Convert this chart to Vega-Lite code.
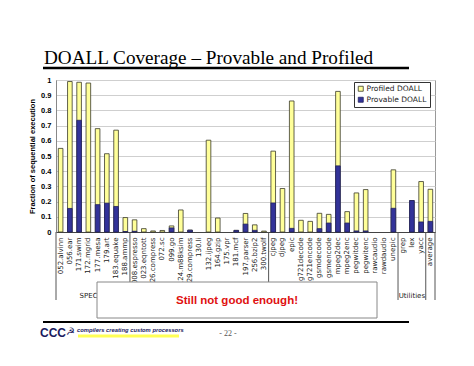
{
  "$schema": "https://vega.github.io/schema/vega-lite/v6.json",
  "width": 379,
  "height": 152,
  "autosize": {"type": "none"},
  "padding": {"left": 56, "top": 80, "right": 39, "bottom": 134},
  "background": "white",
  "title": {"text": "DOALL Coverage – Provable and Profiled", "anchor": "start", "frame": "group", "dx": -12, "dy": 29, "offset": 13, "baseline": "alphabetic", "font": "Liberation Serif", "fontSize": 19.2, "fontWeight": "normal", "color": "#000"},
  "config": {
    "view": {"stroke": "#999"},
    "font": "DejaVu Sans",
    "legend": {"orient": "none", "legendX": 298, "legendY": 2, "symbolType": "square", "symbolSize": 25, "symbolStrokeWidth": 0.8, "labelFontSize": 7.5, "labelFont": "DejaVu Sans", "labelColor": "#222", "padding": 3, "strokeColor": "#333", "fillColor": "white", "rowPadding": 2, "labelOffset": 2}
  },
  "layer": [
    {
      "data": {"values": [
        {"b": "052.alvinn", "s": "Profiled DOALL", "v": 0.55},
        {"b": "056.ear", "s": "Profiled DOALL", "v": 0.99},
        {"b": "171.swim", "s": "Profiled DOALL", "v": 0.985},
        {"b": "172.mgrid", "s": "Profiled DOALL", "v": 0.98},
        {"b": "177.mesa", "s": "Profiled DOALL", "v": 0.68},
        {"b": "179.art", "s": "Profiled DOALL", "v": 0.515},
        {"b": "183.equake", "s": "Profiled DOALL", "v": 0.67},
        {"b": "188.ammp", "s": "Profiled DOALL", "v": 0.095},
        {"b": "008.espresso", "s": "Profiled DOALL", "v": 0.08},
        {"b": "023.eqntott", "s": "Profiled DOALL", "v": 0.022},
        {"b": "026.compress", "s": "Profiled DOALL", "v": 0.007},
        {"b": "072.sc", "s": "Profiled DOALL", "v": 0.01},
        {"b": "099.go", "s": "Profiled DOALL", "v": 0.04},
        {"b": "124.m88ksim", "s": "Profiled DOALL", "v": 0.145},
        {"b": "129.compress", "s": "Profiled DOALL", "v": 0.013},
        {"b": "130.li", "s": "Profiled DOALL", "v": 0},
        {"b": "132.ijpeg", "s": "Profiled DOALL", "v": 0.604},
        {"b": "164.gzip", "s": "Profiled DOALL", "v": 0.092},
        {"b": "175.vpr", "s": "Profiled DOALL", "v": 0},
        {"b": "181.mcf", "s": "Profiled DOALL", "v": 0.011},
        {"b": "197.parser", "s": "Profiled DOALL", "v": 0.122},
        {"b": "256.bzip2", "s": "Profiled DOALL", "v": 0.047},
        {"b": "300.twolf", "s": "Profiled DOALL", "v": 0.006},
        {"b": "cjpeg", "s": "Profiled DOALL", "v": 0.532},
        {"b": "djpeg", "s": "Profiled DOALL", "v": 0.286},
        {"b": "epic", "s": "Profiled DOALL", "v": 0.862},
        {"b": "g721decode", "s": "Profiled DOALL", "v": 0.077},
        {"b": "g721encode", "s": "Profiled DOALL", "v": 0.07},
        {"b": "gsmdecode", "s": "Profiled DOALL", "v": 0.123},
        {"b": "gsmencode", "s": "Profiled DOALL", "v": 0.116},
        {"b": "mpeg2dec", "s": "Profiled DOALL", "v": 0.925},
        {"b": "mpeg2enc", "s": "Profiled DOALL", "v": 0.134},
        {"b": "pegwitdec", "s": "Profiled DOALL", "v": 0.257},
        {"b": "pegwitenc", "s": "Profiled DOALL", "v": 0.279},
        {"b": "rawcaudio", "s": "Profiled DOALL", "v": 0},
        {"b": "rawdaudio", "s": "Profiled DOALL", "v": 0},
        {"b": "unepic", "s": "Profiled DOALL", "v": 0.409},
        {"b": "grep", "s": "Profiled DOALL", "v": 0},
        {"b": "lex", "s": "Profiled DOALL", "v": 0.207},
        {"b": "yacc", "s": "Profiled DOALL", "v": 0.332},
        {"b": "average", "s": "Profiled DOALL", "v": 0.281},
        {"b": "056.ear", "s": "Provable DOALL", "v": 0.155},
        {"b": "171.swim", "s": "Provable DOALL", "v": 0.735},
        {"b": "177.mesa", "s": "Provable DOALL", "v": 0.18},
        {"b": "179.art", "s": "Provable DOALL", "v": 0.19},
        {"b": "183.equake", "s": "Provable DOALL", "v": 0.168},
        {"b": "188.ammp", "s": "Provable DOALL", "v": 0.003},
        {"b": "008.espresso", "s": "Provable DOALL", "v": 0.005},
        {"b": "099.go", "s": "Provable DOALL", "v": 0.027},
        {"b": "129.compress", "s": "Provable DOALL", "v": 0.011},
        {"b": "181.mcf", "s": "Provable DOALL", "v": 0.01},
        {"b": "197.parser", "s": "Provable DOALL", "v": 0.052},
        {"b": "256.bzip2", "s": "Provable DOALL", "v": 0.011},
        {"b": "cjpeg", "s": "Provable DOALL", "v": 0.191},
        {"b": "epic", "s": "Provable DOALL", "v": 0.024},
        {"b": "gsmdecode", "s": "Provable DOALL", "v": 0.022},
        {"b": "gsmencode", "s": "Provable DOALL", "v": 0.059},
        {"b": "mpeg2dec", "s": "Provable DOALL", "v": 0.435},
        {"b": "mpeg2enc", "s": "Provable DOALL", "v": 0.059},
        {"b": "pegwitdec", "s": "Provable DOALL", "v": 0.007},
        {"b": "pegwitenc", "s": "Provable DOALL", "v": 0.007},
        {"b": "unepic", "s": "Provable DOALL", "v": 0.156},
        {"b": "lex", "s": "Provable DOALL", "v": 0.207},
        {"b": "yacc", "s": "Provable DOALL", "v": 0.066},
        {"b": "average", "s": "Provable DOALL", "v": 0.07}
      ]},
      "mark": {"type": "bar", "width": {"band": 0.5}},
      "encoding": {
        "x": {"field": "b", "type": "nominal", "sort": null, "title": null,
              "scale": {"paddingInner": 0, "paddingOuter": 0},
              "axis": {"labelAngle": -90, "labelFontSize": 7, "labelFont": "DejaVu Sans", "labelColor": "#222", "ticks": false, "labelPadding": 5, "domainColor": "#444", "grid": false, "labelOverlap": false}},
        "y": {"field": "v", "type": "quantitative", "stack": null, "title": "Fraction of sequential execution",
              "scale": {"domain": [0, 1], "nice": false},
              "axis": {"tickCount": 10, "format": "~g", "labelOverlap": false, "labelFont": "Liberation Sans", "labelFontWeight": "bold", "labelFontSize": 7.5, "labelColor": "#000", "ticks": false, "labelPadding": 5, "domainColor": "#888", "grid": true, "gridColor": "#cfcfcf", "titleFont": "Liberation Sans", "titleFontSize": 7.5, "titleFontWeight": "bold", "titleColor": "#000", "titlePadding": 4}},
        "color": {"field": "s", "type": "nominal", "title": null, "scale": {"domain": ["Profiled DOALL", "Provable DOALL"], "range": ["#FFFF99", "#333399"]}},
        "stroke": {"field": "s", "type": "nominal", "title": null, "scale": {"domain": ["Profiled DOALL", "Provable DOALL"], "range": ["#3a3a2a", "#22225e"]}},
        "strokeWidth": {"condition": {"test": "datum.v == 0", "value": 0}, "value": 0.8}
      }
    },
    {
      "data": {"values": [{"b": "052.alvinn"}, {"b": "008.espresso"}, {"b": "cjpeg"}, {"b": "grep"}, {"b": "average"}]},
      "mark": {"type": "rule", "color": "#555", "strokeWidth": 1},
      "encoding": {
        "x": {"field": "b", "type": "nominal", "sort": null, "bandPosition": 0},
        "y": {"value": 152},
        "y2": {"value": 220}
      }
    },
    {
      "data": {"values": [{}]},
      "mark": {"type": "rule", "color": "#555", "strokeWidth": 1},
      "encoding": {
        "x": {"datum": "average", "type": "nominal", "bandPosition": 1},
        "y": {"value": 152},
        "y2": {"value": 220}
      }
    },
    {
      "data": {"values": [{}]},
      "mark": {"type": "text", "text": "SPECfp", "fontSize": 7, "font": "DejaVu Sans", "color": "#222", "dx": -1},
      "encoding": {
        "x": {"datum": "177.mesa", "type": "nominal", "bandPosition": 0},
        "y": {"value": 216}
      }
    },
    {
      "data": {"values": [{}]},
      "mark": {"type": "text", "text": "Utilities", "fontSize": 7, "font": "DejaVu Sans", "color": "#222"},
      "encoding": {
        "x": {"datum": "lex", "type": "nominal", "bandPosition": 0.5},
        "y": {"value": 216}
      }
    },
    {
      "data": {"values": [{}]},
      "mark": {"type": "rect", "fill": "white", "stroke": "#888", "strokeWidth": 1},
      "encoding": {"x": {"value": 41}, "x2": {"value": 321}, "y": {"value": 202}, "y2": {"value": 238}}
    },
    {
      "data": {"values": [{}]},
      "mark": {"type": "text", "text": "Still not good enough!", "font": "Liberation Sans", "fontSize": 11.5, "fontWeight": "bold", "color": "#e01010", "align": "center", "baseline": "middle"},
      "encoding": {"x": {"value": 181}, "y": {"value": 221}}
    },
    {
      "data": {"values": [{}]},
      "mark": {"type": "rule", "color": "#000", "strokeWidth": 2.5},
      "encoding": {"x": {"value": -13}, "x2": {"value": 353}, "y": {"value": -12}}
    },
    {
      "data": {"values": [{}]},
      "mark": {"type": "rule", "color": "#000", "strokeWidth": 2},
      "encoding": {"x": {"value": -13}, "x2": {"value": 353}, "y": {"value": 242}}
    },
    {
      "data": {"values": [{}]},
      "mark": {"type": "rule", "color": "#ffff55", "strokeWidth": 3},
      "encoding": {"x": {"value": 22}, "x2": {"value": 123}, "y": {"value": 256}}
    },
    {
      "data": {"values": [{}]},
      "mark": {"type": "text", "text": "CCC", "font": "Liberation Sans", "fontSize": 12, "fontWeight": "bold", "color": "#1a1a5e", "align": "left", "baseline": "middle"},
      "encoding": {"x": {"value": -16}, "y": {"value": 253}}
    },
    {
      "data": {"values": [{}]},
      "mark": {"type": "text", "text": "☭", "font": "DejaVu Sans", "fontSize": 10, "color": "#1a1a5e", "align": "left", "baseline": "middle"},
      "encoding": {"x": {"value": 10}, "y": {"value": 252}}
    },
    {
      "data": {"values": [{}]},
      "mark": {"type": "text", "text": "compilers creating custom processors", "font": "Liberation Sans", "fontSize": 5.8, "fontWeight": "bold", "fontStyle": "italic", "color": "#1a1a5e", "align": "left", "baseline": "middle"},
      "encoding": {"x": {"value": 21}, "y": {"value": 250}}
    },
    {
      "data": {"values": [{}]},
      "mark": {"type": "text", "text": "- 22 -", "font": "Liberation Serif", "fontSize": 8, "color": "#555", "align": "center", "baseline": "middle"},
      "encoding": {"x": {"value": 172}, "y": {"value": 254}}
    }
  ]
}
